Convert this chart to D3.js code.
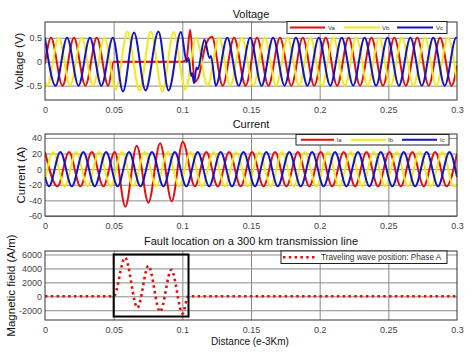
<!DOCTYPE html>
<html>
<head>
  <meta charset="utf-8">
  <title>Voltage, current and fault location</title>
  <script src="https://d3js.org/d3.v7.min.js"></script>
  <style>
    body { margin: 0; background: #fff; }
    text { font-family: Arial, "Liberation Sans", sans-serif; }
  </style>
</head>
<body>

<div id="chart"></div>

<script>
// time axis ticks (s), shared by all three panels
const xTicks = [0, 0.05, 0.1, 0.15, 0.2, 0.25, 0.3];
const xTickLabels = ["0", "0.05", "0.1", "0.15", "0.2", "0.25", "0.3"];

// Voltage (V): peaks / troughs / turning points
const va = [[0,-0.04],[0.0044,0.5],[0.0127,-0.5],[0.0211,0.5],[0.0294,-0.5],[0.0377,0.5],[0.0461,-0.5],
  [0.05,0],[0.1,0],[0.103,0.05],[0.1057,0.67],[0.109,-0.42],[0.112,-0.3],[0.1165,0.3],[0.1215,0.52],[0.1294,-0.5],
  [0.1377,0.5],[0.1461,-0.5],[0.1544,0.5],[0.1627,-0.5],[0.1711,0.5],[0.1794,-0.5],[0.1877,0.5],[0.1961,-0.5],
  [0.2044,0.5],[0.2127,-0.5],[0.2211,0.5],[0.2294,-0.5],[0.2377,0.5],[0.2461,-0.5],[0.2544,0.5],[0.2627,-0.5],
  [0.2711,0.5],[0.2794,-0.5],[0.2877,0.5],[0.2961,-0.5],[0.3,-0.08]];
const vb = [[0,-0.42],[0.0017,-0.5],[0.01,0.5],[0.0183,-0.5],[0.0267,0.5],[0.035,-0.5],[0.0433,0.5],
  [0.0515,-0.58],[0.06,0.63],[0.0688,-0.6],[0.077,0.63],[0.0855,-0.62],[0.0936,0.62],[0.1022,-0.58],
  [0.11,0.5],[0.1183,-0.5],[0.1267,0.5],[0.135,-0.5],[0.1433,0.5],[0.1517,-0.5],[0.16,0.5],[0.1683,-0.5],
  [0.1767,0.5],[0.185,-0.5],[0.1933,0.5],[0.2017,-0.5],[0.21,0.5],[0.2183,-0.5],[0.2267,0.5],[0.235,-0.5],
  [0.2433,0.5],[0.2517,-0.5],[0.26,0.5],[0.2683,-0.5],[0.2767,0.5],[0.285,-0.5],[0.2933,0.5],[0.3,-0.41]];
const vc = [[0,0.5],[0.0077,-0.5],[0.0161,0.5],[0.0244,-0.5],[0.0327,0.5],[0.0411,-0.5],[0.0494,0.5],
  [0.0568,-0.62],[0.0648,0.61],[0.0732,-0.6],[0.0826,0.63],[0.09,-0.6],[0.099,0.62],
  [0.1032,0.0],[0.1045,0.08],[0.1065,-0.3],[0.1072,-0.24],[0.1085,-0.45],[0.1103,-0.12],[0.1112,-0.16],
  [0.1161,0.46],[0.1198,0.08],[0.1208,0.12],[0.1244,-0.5],[0.1327,0.5],[0.1411,-0.5],[0.1494,0.5],[0.1577,-0.5],
  [0.1661,0.5],[0.1744,-0.5],[0.1827,0.5],[0.1911,-0.5],[0.1994,0.5],[0.2077,-0.5],[0.2161,0.5],[0.2244,-0.5],
  [0.2327,0.5],[0.2411,-0.5],[0.2494,0.5],[0.2577,-0.5],[0.2661,0.5],[0.2744,-0.5],[0.2827,0.5],[0.2911,-0.5],
  [0.2994,0.5],[0.3,0.5]];

// Current (A)
const ia = [[0,22],[0.0091,-22],[0.0175,22],[0.0258,-22],[0.0341,22],[0.0425,-22],[0.0508,22],
  [0.0585,-48],[0.0668,30],[0.0753,-43],[0.0838,33],[0.0923,-41],[0.1003,35],[0.1091,-22],
  [0.1175,22],[0.1258,-22],[0.1341,22],[0.1425,-22],[0.1508,22],[0.1591,-22],[0.1675,22],[0.1758,-22],
  [0.1841,22],[0.1925,-22],[0.2008,22],[0.2091,-22],[0.2175,22],[0.2258,-22],[0.2341,22],[0.2425,-22],
  [0.2508,22],[0.2591,-22],[0.2675,22],[0.2758,-22],[0.2841,22],[0.2925,-22],[0.3,20]];
const ib = [[0,-14],[0.006,22],[0.0143,-22],[0.0227,22],[0.031,-22],[0.0393,22],[0.0477,-22],[0.056,22],
  [0.0643,-22],[0.0727,22],[0.081,-22],[0.0893,22],[0.0977,-22],[0.106,22],[0.1143,-22],[0.1227,22],
  [0.131,-22],[0.1393,22],[0.1477,-22],[0.156,22],[0.1643,-22],[0.1727,22],[0.181,-22],[0.1893,22],
  [0.1977,-22],[0.206,22],[0.2143,-22],[0.2227,22],[0.231,-22],[0.2393,22],[0.2477,-22],[0.256,22],
  [0.2643,-22],[0.2727,22],[0.281,-22],[0.2893,22],[0.2977,-22],[0.3,-21]];
const ic = [[0,-10],[0.0029,-22],[0.0112,22],[0.0195,-22],[0.0279,22],[0.0362,-22],[0.0445,22],[0.0529,-22],
  [0.0612,22],[0.0695,-22],[0.0779,22],[0.0862,-22],[0.0945,22],[0.1029,-22],[0.1112,22],[0.1195,-22],
  [0.1279,22],[0.1362,-22],[0.1445,22],[0.1529,-22],[0.1612,22],[0.1695,-22],[0.1779,22],[0.1862,-22],
  [0.1945,22],[0.2029,-22],[0.2112,22],[0.2195,-22],[0.2279,22],[0.2362,-22],[0.2445,22],[0.2529,-22],
  [0.2612,22],[0.2695,-22],[0.2779,22],[0.2862,-22],[0.2945,22],[0.3,-10]];

// Magnetic field (A/m), travelling wave of phase A
const ha = [[0,0],[0.05,0],[0.0583,5550],[0.0673,-1650],[0.0753,4370],[0.0838,-2200],[0.092,3800],
  [0.1002,-2480],[0.1042,0],[0.3,0]];
// fault window drawn as a box: [x0, x1, y0, y1]
const faultBox = [0.05, 0.1045, -2900, 6000];

const red = "#e60d0d", yellow = "#f2ea10", blue = "#1414c4";

const width = 474, height = 353;
const left = 45, right = 457;

const svg = d3.select("#chart").append("svg")
  .attr("width", width).attr("height", height)
  .style("background", "#fff");

const x = d3.scaleLinear().domain([0, 0.3]).range([left, right]);

function panel(p) {
  const y = d3.scaleLinear().domain(p.yDomain).range([p.bottom, p.top]);
  const g = svg.append("g");

  // grid
  g.append("g")
    .attr("transform", `translate(0,${p.bottom})`)
    .call(d3.axisBottom(x).tickValues(xTicks.slice(1, -1)).tickSize(p.top - p.bottom).tickFormat(""))
    .call(a => a.select(".domain").remove())
    .selectAll("line").attr("stroke", "#8a8a8a");
  g.append("g")
    .attr("transform", `translate(${left},0)`)
    .call(d3.axisLeft(y).tickValues(p.yTicks).tickSize(left - right).tickFormat(""))
    .call(a => a.select(".domain").remove())
    .selectAll("line").attr("stroke", "#8a8a8a");

  // tick labels
  g.append("g")
    .attr("transform", `translate(0,${p.bottom})`)
    .call(d3.axisBottom(x).tickValues(xTicks).tickSize(0).tickPadding(7)
      .tickFormat((d, i) => xTickLabels[i]))
    .call(a => a.select(".domain").remove())
    .selectAll("text").attr("font-size", 9).attr("fill", "#444")
    .attr("font-family", "Arial, 'Liberation Sans', sans-serif");
  g.append("g")
    .attr("transform", `translate(${left},0)`)
    .call(d3.axisLeft(y).tickValues(p.yTicks).tickSize(0).tickPadding(3)
      .tickFormat(d => String(d)))
    .call(a => a.select(".domain").remove())
    .selectAll("text").attr("font-size", 9).attr("fill", "#444")
    .attr("font-family", "Arial, 'Liberation Sans', sans-serif");

  // clipped traces
  const clipId = "clip" + p.top;
  svg.append("clipPath").attr("id", clipId)
    .append("rect").attr("x", left).attr("y", p.top)
    .attr("width", right - left).attr("height", p.bottom - p.top);
  const line = d3.line().x(d => x(d[0])).y(d => y(d[1])).curve(d3.curveMonotoneX);
  const traces = g.append("g").attr("clip-path", `url(#${clipId})`);
  p.series.forEach(s => {
    traces.append("path")
      .datum(s.data)
      .attr("fill", "none")
      .attr("stroke", s.color)
      .attr("stroke-width", s.width || 2)
      .attr("stroke-dasharray", s.dash || null)
      .attr("d", line);
  });

  if (p.box) {
    g.append("rect")
      .attr("x", x(p.box[0])).attr("y", y(p.box[3]))
      .attr("width", x(p.box[1]) - x(p.box[0]))
      .attr("height", y(p.box[2]) - y(p.box[3]))
      .attr("fill", "none").attr("stroke", "#000").attr("stroke-width", 2);
  }

  // frame
  g.append("rect")
    .attr("x", left).attr("y", p.top)
    .attr("width", right - left).attr("height", p.bottom - p.top)
    .attr("fill", "none").attr("stroke", "#333").attr("stroke-width", 1);

  // title and y label
  g.append("text").attr("x", 251).attr("y", p.titleY)
    .attr("text-anchor", "middle").attr("font-size", 11).attr("fill", "#111")
    .text(p.title);
  g.append("text")
    .attr("transform", `translate(${p.ylabelX},${(p.top + p.bottom) / 2}) rotate(-90)`)
    .attr("text-anchor", "middle").attr("dominant-baseline", "central")
    .attr("font-size", 11.5).attr("fill", "#111")
    .text(p.ylabel);

  // legend
  const L = p.legend;
  const lg = g.append("g");
  lg.append("rect").attr("x", L.x0).attr("y", L.y0)
    .attr("width", L.x1 - L.x0).attr("height", L.y1 - L.y0)
    .attr("fill", "#fff").attr("stroke", "#222").attr("stroke-width", 1);
  const cy = (L.y0 + L.y1) / 2;
  L.items.forEach(it => {
    lg.append("line").attr("x1", it.a).attr("x2", it.b).attr("y1", cy).attr("y2", cy)
      .attr("stroke", it.color).attr("stroke-width", it.width || 2)
      .attr("stroke-dasharray", it.dash || null);
    lg.append("text").attr("x", it.t).attr("y", cy)
      .attr("dominant-baseline", "central")
      .attr("font-size", L.fontSize).attr("fill", "#333")
      .text(it.label);
  });
}

panel({
  top: 22, bottom: 100, yDomain: [-0.8, 0.83], yTicks: [-0.5, 0, 0.5],
  title: "Voltage", titleY: 18, ylabel: "Voltage (V)", ylabelX: 19,
  series: [{ data: va, color: red }, { data: vb, color: yellow }, { data: vc, color: blue }],
  legend: { x0: 287, x1: 447, y0: 21.5, y1: 33.5, fontSize: 6, items: [
    { a: 290, b: 325, t: 328, color: red, label: "Va" },
    { a: 344, b: 380, t: 382, color: yellow, label: "Vb" },
    { a: 397, b: 433, t: 436, color: blue, label: "Vc" }] }
});

panel({
  top: 134, bottom: 216, yDomain: [-60, 45], yTicks: [-60, -40, -20, 0, 20, 40],
  title: "Current", titleY: 128, ylabel: "Current (A)", ylabelX: 21,
  series: [{ data: ia, color: red }, { data: ib, color: yellow }, { data: ic, color: blue }],
  legend: { x0: 296, x1: 449, y0: 134.5, y1: 145, fontSize: 6, items: [
    { a: 301, b: 334, t: 336.5, color: red, label: "Ia" },
    { a: 351, b: 386, t: 388, color: yellow, label: "Ib" },
    { a: 402, b: 437, t: 440, color: blue, label: "Ic" }] }
});

panel({
  top: 251, bottom: 320, yDomain: [-3400, 6500], yTicks: [-2000, 0, 2000, 4000, 6000],
  title: "Fault location on a 300 km transmission line", titleY: 245,
  ylabel: "Magnetic field (A/m)", ylabelX: 11,
  series: [{ data: ha, color: red, width: 2.6, dash: "2.5 3.3" }],
  box: faultBox,
  legend: { x0: 281, x1: 447, y0: 251, y1: 263.5, fontSize: 8.2, items: [
    { a: 283, b: 316, t: 321, color: red, width: 2.6, dash: "2.5 3.3", label: "Traveling wave position: Phase A" }] }
});

svg.append("text").attr("x", 250).attr("y", 345)
  .attr("text-anchor", "middle").attr("font-size", 10).attr("fill", "#111")
  .text("Distance (e-3Km)");
</script>

</body>
</html>
